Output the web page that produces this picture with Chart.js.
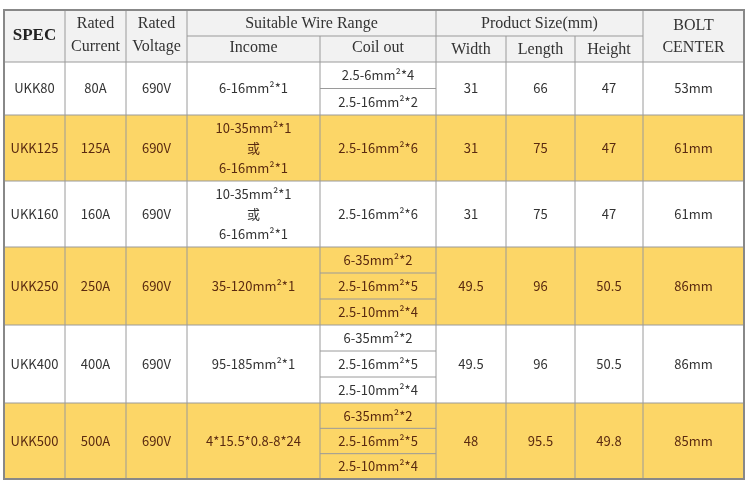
<!DOCTYPE html>
<html>
<head>
<meta charset="utf-8">
<script src="https://cdn.jsdelivr.net/npm/chart.js@4/dist/chart.umd.min.js"></script>
<style>
  body { margin: 0; background: #fff; }
  #wrap { width: 750px; height: 492px; }
</style>
</head>
<body>
<div id="wrap"><canvas id="specTable"></canvas></div>
<script>
// table data
const specs = ["UKK80", "UKK125", "UKK160", "UKK250", "UKK400", "UKK500"];
const currents = ["80A", "125A", "160A", "250A", "400A", "500A"];
const voltages = ["690V", "690V", "690V", "690V", "690V", "690V"];
const incomes = [
  ["6-16mm²*1"],
  ["10-35mm²*1", "或", "6-16mm²*1"],
  ["10-35mm²*1", "或", "6-16mm²*1"],
  ["35-120mm²*1"],
  ["95-185mm²*1"],
  ["4*15.5*0.8-8*24"],
];
const coilOuts = [
  ["2.5-6mm²*4", "2.5-16mm²*2"],
  ["2.5-16mm²*6"],
  ["2.5-16mm²*6"],
  ["6-35mm²*2", "2.5-16mm²*5", "2.5-10mm²*4"],
  ["6-35mm²*2", "2.5-16mm²*5", "2.5-10mm²*4"],
  ["6-35mm²*2", "2.5-16mm²*5", "2.5-10mm²*4"],
];
const widths = ["31", "31", "31", "49.5", "49.5", "48"];
const lengths = ["66", "75", "75", "96", "96", "95.5"];
const heights = ["47", "47", "47", "50.5", "50.5", "49.8"];
const bolts = ["53mm", "61mm", "61mm", "86mm", "86mm", "85mm"];

// layout (pixel units of the 750x492 picture)
const colX = [4, 65, 126, 187, 320, 436, 506, 575, 643, 744];
const rowY = [62, 115, 181, 247, 325, 403, 479];
const headTop = 10, headMid = 36;
const highlighted = [false, true, false, true, false, true];

const tablePlugin = {
  id: "tablePlugin",
  afterDraw(chart) {
    const ctx = chart.ctx;
    const sx = chart.scales.x, sy = chart.scales.y;
    const X = v => sx.getPixelForValue(v);
    const Y = v => sy.getPixelForValue(v);

    function fill(x0, y0, x1, y1, c) {
      ctx.fillStyle = c;
      ctx.fillRect(X(x0), Y(y0), X(x1) - X(x0), Y(y1) - Y(y0));
    }
    function line(x0, y0, x1, y1) {
      ctx.beginPath();
      ctx.moveTo(X(x0), Y(y0));
      ctx.lineTo(X(x1), Y(y1));
      ctx.stroke();
    }
    function text(t, x, y, font, color) {
      ctx.font = font;
      ctx.fillStyle = color;
      ctx.textAlign = "center";
      ctx.textBaseline = "middle";
      ctx.fillText(t, X(x), Y(y));
    }
    const bodyFont = "13px 'Noto Sans CJK SC'";
    const headFont = "16px 'Liberation Serif'";

    // backgrounds
    fill(colX[0], headTop, colX[9], rowY[0], "#f2f2f2");
    for (let i = 0; i < specs.length; i++) {
      fill(colX[0], rowY[i], colX[9], rowY[i + 1], highlighted[i] ? "#fcd667" : "#ffffff");
    }

    // header
    const hc = "#333";
    text("SPEC", (colX[0] + colX[1]) / 2, (headTop + rowY[0]) / 2, "bold 17px 'Liberation Serif'", "#222");
    text("Rated", (colX[1] + colX[2]) / 2, 24, headFont, hc);
    text("Current", (colX[1] + colX[2]) / 2, 47, headFont, hc);
    text("Rated", (colX[2] + colX[3]) / 2, 24, headFont, hc);
    text("Voltage", (colX[2] + colX[3]) / 2, 47, headFont, hc);
    text("Suitable Wire Range", (colX[3] + colX[5]) / 2, 24, headFont, hc);
    text("Income", (colX[3] + colX[4]) / 2, 48, headFont, hc);
    text("Coil out", (colX[4] + colX[5]) / 2, 48, headFont, hc);
    text("Product Size(mm)", (colX[5] + colX[8]) / 2, 24, headFont, hc);
    text("Width", (colX[5] + colX[6]) / 2, 50, headFont, hc);
    text("Length", (colX[6] + colX[7]) / 2, 50, headFont, hc);
    text("Height", (colX[7] + colX[8]) / 2, 50, headFont, hc);
    text("BOLT", (colX[8] + colX[9]) / 2, 26, headFont, hc);
    text("CENTER", (colX[8] + colX[9]) / 2, 48, headFont, hc);

    // body
    const simple = [specs, currents, voltages];
    const sizes = [widths, lengths, heights, bolts];
    for (let i = 0; i < specs.length; i++) {
      const y0 = rowY[i], y1 = rowY[i + 1], ym = (y0 + y1) / 2;
      const col = highlighted[i] ? "#5a2a10" : "#333";
      simple.forEach((arr, c) => text(arr[i], (colX[c] + colX[c + 1]) / 2, ym, bodyFont, col));
      sizes.forEach((arr, c) => text(arr[i], (colX[c + 5] + colX[c + 6]) / 2, ym, bodyFont, col));
      const inc = incomes[i];
      inc.forEach((t, k) => text(t, (colX[3] + colX[4]) / 2, ym + (k - (inc.length - 1) / 2) * 20, bodyFont, col));
      const co = coilOuts[i];
      const h = (y1 - y0) / co.length;
      ctx.strokeStyle = "#9a9a9a";
      ctx.lineWidth = 1;
      co.forEach((t, k) => {
        text(t, (colX[4] + colX[5]) / 2, y0 + h * (k + 0.5), bodyFont, col);
        if (k > 0) line(colX[4], y0 + h * k, colX[5], y0 + h * k);
      });
    }

    // grid lines
    ctx.strokeStyle = "#9a9a9a";
    ctx.lineWidth = 1;
    line(colX[3], headMid, colX[8], headMid);
    rowY.forEach(y => line(colX[0], y, colX[9], y));
    colX.forEach((x, c) => {
      const top = (c === 4 || c === 6 || c === 7) ? headMid : headTop;
      line(x, top, x, rowY[rowY.length - 1]);
    });
    ctx.strokeStyle = "#888";
    ctx.lineWidth = 2;
    ctx.strokeRect(X(colX[0]), Y(headTop), X(colX[9]) - X(colX[0]), Y(rowY[6]) - Y(headTop));
  }
};

document.addEventListener("DOMContentLoaded", function () {
  const ctx = document.getElementById("specTable").getContext("2d");
  new Chart(ctx, {
    type: "scatter",
    data: { datasets: [{ data: [] }] },
    options: {
      responsive: true,
      maintainAspectRatio: false,
      animation: false,
      layout: { padding: 0 },
      plugins: { legend: { display: false }, tooltip: { enabled: false } },
      scales: {
        x: { type: "linear", min: 0, max: 750, display: false },
        y: { type: "linear", min: 0, max: 492, reverse: true, display: false },
      },
    },
    plugins: [tablePlugin],
  });
});
</script>
</body>
</html>
